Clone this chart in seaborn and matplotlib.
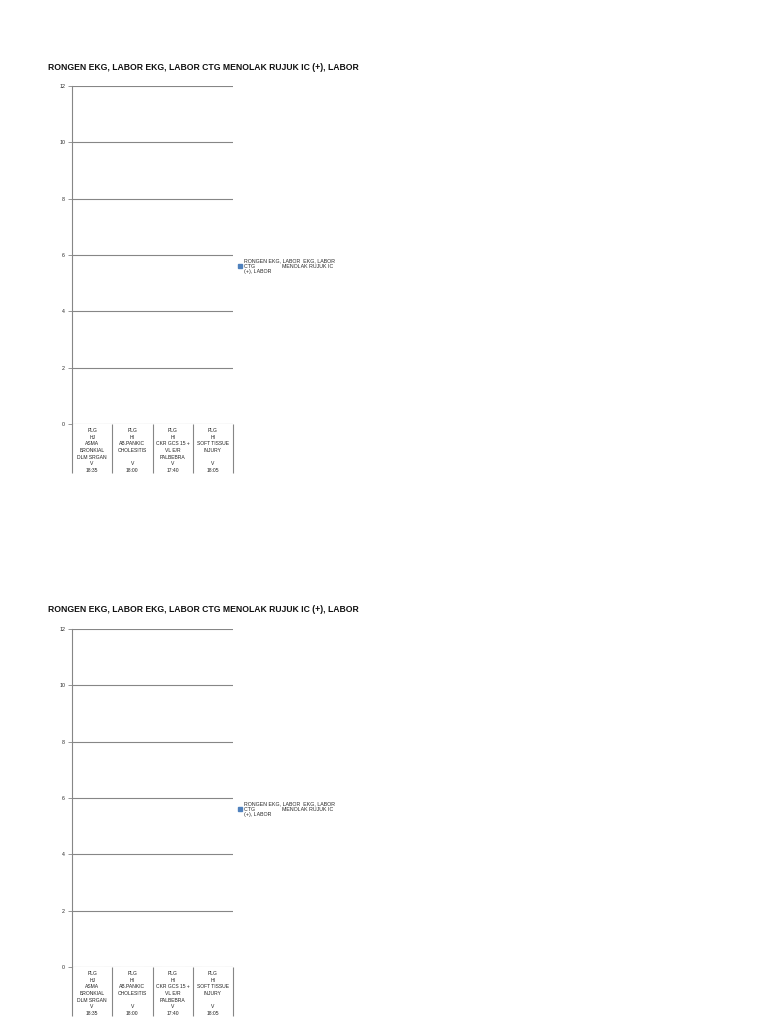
import pandas as pd
import seaborn as sns
import matplotlib.pyplot as plt

# chart data
title = "RONGEN EKG, LABOR EKG, LABOR CTG MENOLAK RUJUK IC (+), LABOR"
series_name = "RONGEN EKG, LABOR  EKG, LABOR\nCTG                  MENOLAK RUJUK IC\n(+), LABOR"
categories = [
    "PLG\nHJ\nASMA\nBRONKIAL\nDLM SRGAN\nV\n18:35",
    "PLG\nHI\nAB.PANKIC\nCHOLESITIS\n\nV\n18:00",
    "PLG\nHI\nCKR GCS 15 +\nVL E/R\nPALBEBRA\nV\n17:40",
    "PLG\nHI\nSOFT TISSUE\nINJURY\n\nV\n18:05",
]
values = [0, 0, 0, 0]
y_ticks = [0, 2, 4, 6, 8, 10, 12]

df = pd.DataFrame({"cat": categories, "val": values, "series": series_name})

sns.set_theme(style="white")
plt.rcParams["font.family"] = ["Liberation Sans", "DejaVu Sans"]

fig = plt.figure(figsize=(7.68, 10.24), dpi=100)

# two identical panels, top and bottom
for top_px, title_px in [(86, 68), (629, 610)]:
    bottom_px = top_px + 338
    ax = fig.add_axes([72 / 768, 1 - bottom_px / 1024, 161 / 768, 338 / 1024])
    sns.barplot(data=df, x="cat", y="val", hue="series", palette=["#4F81BD"], ax=ax, width=0.6)
    ax.set_ylim(0, 12)
    ax.set_xlim(-0.5, 3.5)
    ax.set_yticks(y_ticks)
    ax.set_yticklabels([str(t) for t in y_ticks], fontsize=3.8)
    ax.yaxis.grid(True, color="#868686", linewidth=0.8)
    ax.set_axisbelow(True)
    ax.set_xlabel("")
    ax.set_ylabel("")
    for s in ["top", "right", "bottom"]:
        ax.spines[s].set_visible(False)
    ax.spines["left"].set_color("#868686")
    ax.spines["left"].set_linewidth(0.8)
    ax.tick_params(axis="y", length=3, width=0.6, color="#868686", pad=2, left=True)
    ax.set_xticks(range(len(categories)))
    ax.set_xticklabels(categories, fontsize=3.6, linespacing=1.4, color="#222222")
    ax.tick_params(axis="x", length=0, pad=3)
    ax.set_xticks([-0.5, 0.5, 1.5, 2.5, 3.5], minor=True)
    ax.tick_params(axis="x", which="minor", length=35, width=0.8, color="#868686", bottom=True)
    leg = ax.legend(loc="center left", bbox_to_anchor=(1.02, 0.467), frameon=False,
                    fontsize=3.8, handlelength=0.7, handleheight=0.7, handletextpad=0.4,
                    borderaxespad=0)
    for h in leg.legend_handles:
        h.set_facecolor("#4F81BD")
        h.set_edgecolor("#4F81BD")
    fig.text(48 / 768, 1 - title_px / 1024, title, fontsize=6.2, fontweight="bold",
             va="center", ha="left", color="#111111")

fig.savefig("out.png", dpi=100)
